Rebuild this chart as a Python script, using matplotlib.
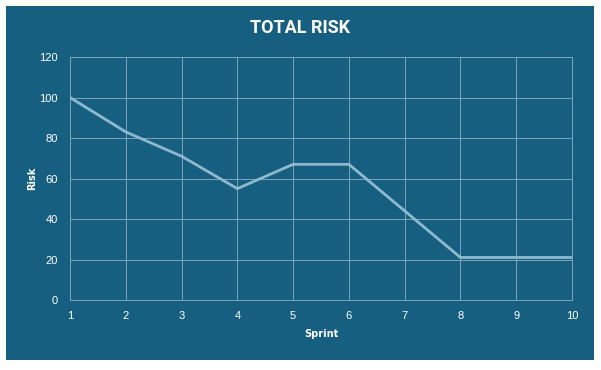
import matplotlib
matplotlib.use("Agg")
import matplotlib.pyplot as plt

sprints = [1, 2, 3, 4, 5, 6, 7, 8, 9, 10]
risk = [100, 83, 71, 55, 67, 67, 44, 21, 21, 21]
y_ticks = [0, 20, 40, 60, 80, 100, 120]

bg = "#175f81"
grid_c = "#7ea6ba"
line_c = "#8fb9cd"

fig = plt.figure(figsize=(6.01, 3.70), dpi=100)
fig.patch.set_facecolor("white")
bgax = fig.add_axes([6/601, 1-360/370, (594-6)/601, (360-6)/370], zorder=0)
bgax.set_facecolor(bg)
bgax.set_xticks([]); bgax.set_yticks([])
for s in bgax.spines.values():
    s.set_visible(False)

ax = fig.add_axes([70/601, 1-300/370, (572-70)/601, (300-57)/370], zorder=1)
ax.set_facecolor(bg)
ax.plot(sprints, risk, color=line_c, linewidth=2.0, solid_capstyle="butt", zorder=3)
ax.set_xlim(1, 10)
ax.set_ylim(0, 120)
ax.set_xticks(sprints)
ax.set_yticks(y_ticks)
ax.grid(True, color=grid_c, linewidth=0.7)
ax.set_axisbelow(True)
for s in ax.spines.values():
    s.set_color(grid_c)
    s.set_linewidth(0.7)
ax.tick_params(colors="white", length=0, labelsize=8, pad=8)
for lab in ax.get_xticklabels() + ax.get_yticklabels():
    lab.set_family("Liberation Sans")
ax.tick_params(axis="y", pad=9)
ax.set_xlabel("Sprint", color="white", fontsize=7, fontweight="bold", labelpad=6, family="DejaVu Sans")
ax.set_ylabel("Risk", color="white", fontsize=7, fontweight="bold", labelpad=1, family="DejaVu Sans")
fig.text(0.5, 1-28/370, "TOTAL RISK", color="white", fontsize=13, fontweight="bold",
         ha="center", va="center", family="Roboto", zorder=5)

fig.savefig("out.png", dpi=100, facecolor="white")
